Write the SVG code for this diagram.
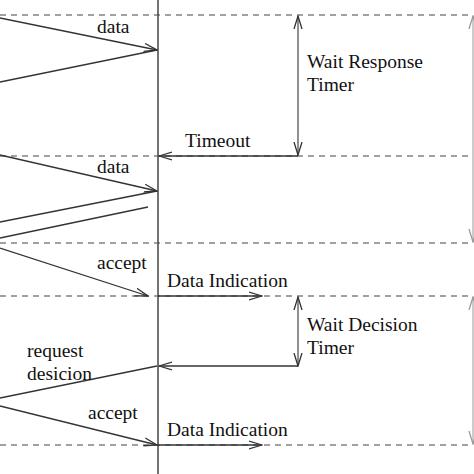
<svg xmlns="http://www.w3.org/2000/svg" width="474" height="474" viewBox="0 0 474 474">
<style>
.t{font-family:"Liberation Serif","Times New Roman",serif;font-size:19.5px;fill:#111}
.dash{stroke:#444;stroke-width:1.2;stroke-dasharray:6 5;fill:none}
.ln{stroke:#333;stroke-width:1.3;fill:none}
.life{stroke:#444;stroke-width:1.5}
.tm{stroke:#555;stroke-width:1.3;fill:none}
.far{stroke:#bbb;stroke-width:1.5;fill:none}
</style>
<defs>
<marker id="ah" markerUnits="userSpaceOnUse" markerWidth="14" markerHeight="10" refX="13" refY="5" orient="auto-start-reverse" viewBox="0 0 14 10">
<path d="M0,1 L13,5 L0,9" fill="none" stroke="#333" stroke-width="1.3"/>
</marker>
<marker id="ahg" markerUnits="userSpaceOnUse" markerWidth="14" markerHeight="10" refX="13" refY="5" orient="auto-start-reverse" viewBox="0 0 14 10">
<path d="M0,1 L13,5 L0,9" fill="none" stroke="#999" stroke-width="1.3"/>
</marker>
</defs>
<rect width="474" height="474" fill="#fff"/>
<g id="separators">
<line class="dash" x1="0" y1="15" x2="470" y2="15"/>
<line class="dash" x1="0" y1="156" x2="470" y2="156"/>
<line class="dash" x1="0" y1="243" x2="470" y2="243"/>
<line class="dash" x1="0" y1="296" x2="470" y2="296"/>
<line class="dash" x1="0" y1="445" x2="470" y2="445"/>
</g>
<g id="lifeline"><line class="life" x1="158" y1="0" x2="158" y2="474"/></g>
<g id="connectors">
<line class="ln" x1="0" y1="18" x2="157" y2="50" marker-end="url(#ah)"/>
<line class="ln" x1="0" y1="82" x2="157" y2="50"/>
<line class="ln" x1="298" y1="156" x2="159" y2="156" marker-end="url(#ah)"/>
<line class="tm" x1="298" y1="16" x2="298" y2="155" marker-start="url(#ah)" marker-end="url(#ah)"/>
<line class="ln" x1="0" y1="155" x2="157" y2="191" marker-end="url(#ah)"/>
<line class="ln" x1="0" y1="222" x2="157" y2="191"/>
<line class="ln" x1="0" y1="238" x2="148" y2="207"/>
<line class="ln" x1="0" y1="248" x2="148" y2="296" marker-end="url(#ah)"/>
<line class="ln" x1="158" y1="296" x2="262" y2="296" marker-end="url(#ah)"/>
<line class="tm" x1="298" y1="297" x2="298" y2="366" marker-start="url(#ah)" marker-end="url(#ah)"/>
<line class="ln" x1="298" y1="366" x2="159" y2="366" marker-end="url(#ah)"/>
<line class="ln" x1="0" y1="398" x2="157" y2="366"/>
<line class="ln" x1="0" y1="406" x2="157" y2="445" marker-end="url(#ah)"/>
<line class="ln" x1="158" y1="445" x2="262" y2="445" marker-end="url(#ah)"/>
<line class="far" x1="473" y1="16" x2="473" y2="242" marker-start="url(#ahg)" marker-end="url(#ahg)"/>
<line class="far" x1="473" y1="297" x2="473" y2="444" marker-start="url(#ahg)" marker-end="url(#ahg)"/>
</g>
<g id="labels">
<text class="t" x="97" y="33">data</text>
<text class="t" x="307" y="68">Wait Response</text>
<text class="t" x="307" y="91">Timer</text>
<text class="t" x="185" y="147">Timeout</text>
<text class="t" x="97" y="173">data</text>
<text class="t" x="97" y="269">accept</text>
<text class="t" x="167" y="287">Data Indication</text>
<text class="t" x="307" y="331">Wait Decision</text>
<text class="t" x="307" y="354">Timer</text>
<text class="t" x="27" y="357">request</text>
<text class="t" x="27" y="380">desicion</text>
<text class="t" x="88" y="419">accept</text>
<text class="t" x="167" y="436">Data Indication</text>
</g>
</svg>
